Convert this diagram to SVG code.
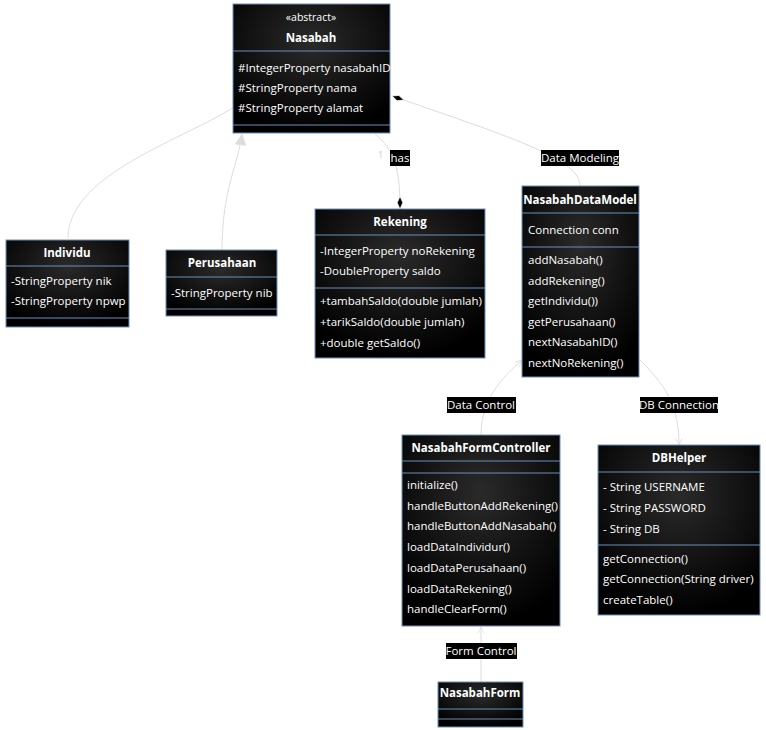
<svg xmlns="http://www.w3.org/2000/svg" width="766" height="730" viewBox="0 0 766 730">
<style>
.n{fill:url(#g);stroke:#6b8fb8;stroke-width:1}
.d{stroke:#6b8fb8;stroke-width:1}
text{font-family:"Open Sans","Liberation Sans",sans-serif;font-size:11.5px;fill:#fff}
.t{font-weight:bold;text-anchor:middle}
.c{text-anchor:middle}
.e{fill:none;stroke:#ddd;stroke-width:1}
.lb{fill:#000}
</style>
<defs>
<radialGradient id="g" cx="0.5" cy="0.3" r="0.7"><stop offset="0" stop-color="#2a2a2a"/><stop offset="1" stop-color="#000"/></radialGradient>
<marker id="tri" viewBox="0 0 20 20" refX="19" refY="10" markerWidth="12" markerHeight="12" orient="auto"><path d="M1,1 L19,10 L1,19 Z" fill="#ddd" stroke="#ddd"/></marker>
<marker id="dia" viewBox="0 0 20 10" refX="19" refY="5" markerWidth="14" markerHeight="7" orient="auto"><path d="M1,5 L10,1 L19,5 L10,9 Z" fill="#000" stroke="#fff"/></marker>
<marker id="arr" viewBox="0 0 10 10" refX="9" refY="5" markerWidth="8" markerHeight="8" orient="auto"><path d="M1,1 L9,5 L1,9" fill="none" stroke="#ddd"/></marker>
</defs>
<rect width="766" height="730" fill="#fff"/>
<g id="edges">
<path class="e" d="M68,238 C68,170 200,135 244,100" marker-end="url(#tri)"/>
<path class="e" d="M222,250 C222,190 238,165 242,134" marker-end="url(#tri)"/>
<path class="e" d="M375,134 C395,150 400,170 400,209" marker-end="url(#dia)"/>
<path class="e" d="M580,186 C580,160 520,140 392,96" marker-end="url(#dia)"/>
<path class="e" d="M481,435 C481,400 500,380 522,360" marker-end="url(#arr)"/>
<path class="e" d="M640,360 C665,385 679,405 679,445" marker-end="url(#arr)"/>
<path class="e" d="M481,682 L481,627" marker-end="url(#arr)"/>
<text x="378" y="158" style="fill:#ccc;font-size:9px">1</text>
<rect class="lb" x="390" y="150" width="20" height="16"/><text class="c" x="400" y="162">has</text>
<rect class="lb" x="541" y="150" width="78" height="16"/><text class="c" x="580" y="162">Data Modeling</text>
<rect class="lb" x="447" y="397" width="69" height="16"/><text class="c" x="481" y="409">Data Control</text>
<rect class="lb" x="640" y="397" width="78" height="16"/><text class="c" x="679" y="409">DB Connection</text>
<rect class="lb" x="446" y="643" width="71" height="16"/><text class="c" x="481" y="655">Form Control</text>
</g>
<g id="Nasabah">
<rect class="n" x="233" y="4" width="157" height="129"/>
<line class="d" x1="233" y1="51" x2="390" y2="51"/><line class="d" x1="233" y1="125" x2="390" y2="125"/>
<text class="c" x="311" y="21" style="font-size:10.5px">«abstract»</text>
<text class="t" x="311" y="42">Nasabah</text>
<text x="238" y="72">#IntegerProperty nasabahID</text>
<text x="238" y="92">#StringProperty nama</text>
<text x="238" y="112">#StringProperty alamat</text>
</g>
<g id="Individu">
<rect class="n" x="6" y="240" width="123" height="87"/>
<line class="d" x1="6" y1="266" x2="129" y2="266"/><line class="d" x1="6" y1="318" x2="129" y2="318"/>
<text class="t" x="67" y="257">Individu</text>
<text x="11" y="285">-StringProperty nik</text>
<text x="11" y="305">-StringProperty npwp</text>
</g>
<g id="Perusahaan">
<rect class="n" x="166" y="250" width="111" height="66"/>
<line class="d" x1="166" y1="277" x2="277" y2="277"/><line class="d" x1="166" y1="309" x2="277" y2="309"/>
<text class="t" x="222" y="267">Perusahaan</text>
<text x="171" y="297">-StringProperty nib</text>
</g>
<g id="Rekening">
<rect class="n" x="315" y="209" width="170" height="149"/>
<line class="d" x1="315" y1="235" x2="485" y2="235"/><line class="d" x1="315" y1="288" x2="485" y2="288"/>
<text class="t" x="400" y="226">Rekening</text>
<text x="320" y="255">-IntegerProperty noRekening</text>
<text x="320" y="275">-DoubleProperty saldo</text>
<text x="320" y="305">+tambahSaldo(double jumlah)</text>
<text x="320" y="326">+tarikSaldo(double jumlah)</text>
<text x="320" y="347">+double getSaldo()</text>
</g>
<g id="NasabahDataModel">
<rect class="n" x="522" y="186" width="117" height="191"/>
<line class="d" x1="522" y1="213" x2="639" y2="213"/><line class="d" x1="522" y1="247" x2="639" y2="247"/>
<text class="t" x="580" y="204">NasabahDataModel</text>
<text x="528" y="234">Connection conn</text>
<text x="528" y="264">addNasabah()</text>
<text x="528" y="285">addRekening()</text>
<text x="528" y="305">getIndividu())</text>
<text x="528" y="326">getPerusahaan()</text>
<text x="528" y="346">nextNasabahID()</text>
<text x="528" y="367">nextNoRekening()</text>
</g>
<g id="NasabahFormController">
<rect class="n" x="402" y="435" width="158" height="191"/>
<line class="d" x1="402" y1="461" x2="560" y2="461"/><line class="d" x1="402" y1="473" x2="560" y2="473"/>
<text class="t" x="481" y="452">NasabahFormController</text>
<text x="407" y="489">initialize()</text>
<text x="407" y="510">handleButtonAddRekening()</text>
<text x="407" y="530">handleButtonAddNasabah()</text>
<text x="407" y="551">loadDataIndividur()</text>
<text x="407" y="572">loadDataPerusahaan()</text>
<text x="407" y="593">loadDataRekening()</text>
<text x="407" y="613">handleClearForm()</text>
</g>
<g id="DBHelper">
<rect class="n" x="598" y="445" width="162" height="170"/>
<line class="d" x1="598" y1="472" x2="760" y2="472"/><line class="d" x1="598" y1="545" x2="760" y2="545"/>
<text class="t" x="679" y="462">DBHelper</text>
<text x="603" y="491">- String USERNAME</text>
<text x="603" y="512">- String PASSWORD</text>
<text x="603" y="533">- String DB</text>
<text x="603" y="563">getConnection()</text>
<text x="603" y="583">getConnection(String driver)</text>
<text x="603" y="604">createTable()</text>
</g>
<g id="NasabahForm">
<rect class="n" x="438" y="682" width="85" height="45"/>
<line class="d" x1="438" y1="709" x2="523" y2="709"/><line class="d" x1="438" y1="719" x2="523" y2="719"/>
<text class="t" x="480" y="697">NasabahForm</text>
</g>
</svg>
